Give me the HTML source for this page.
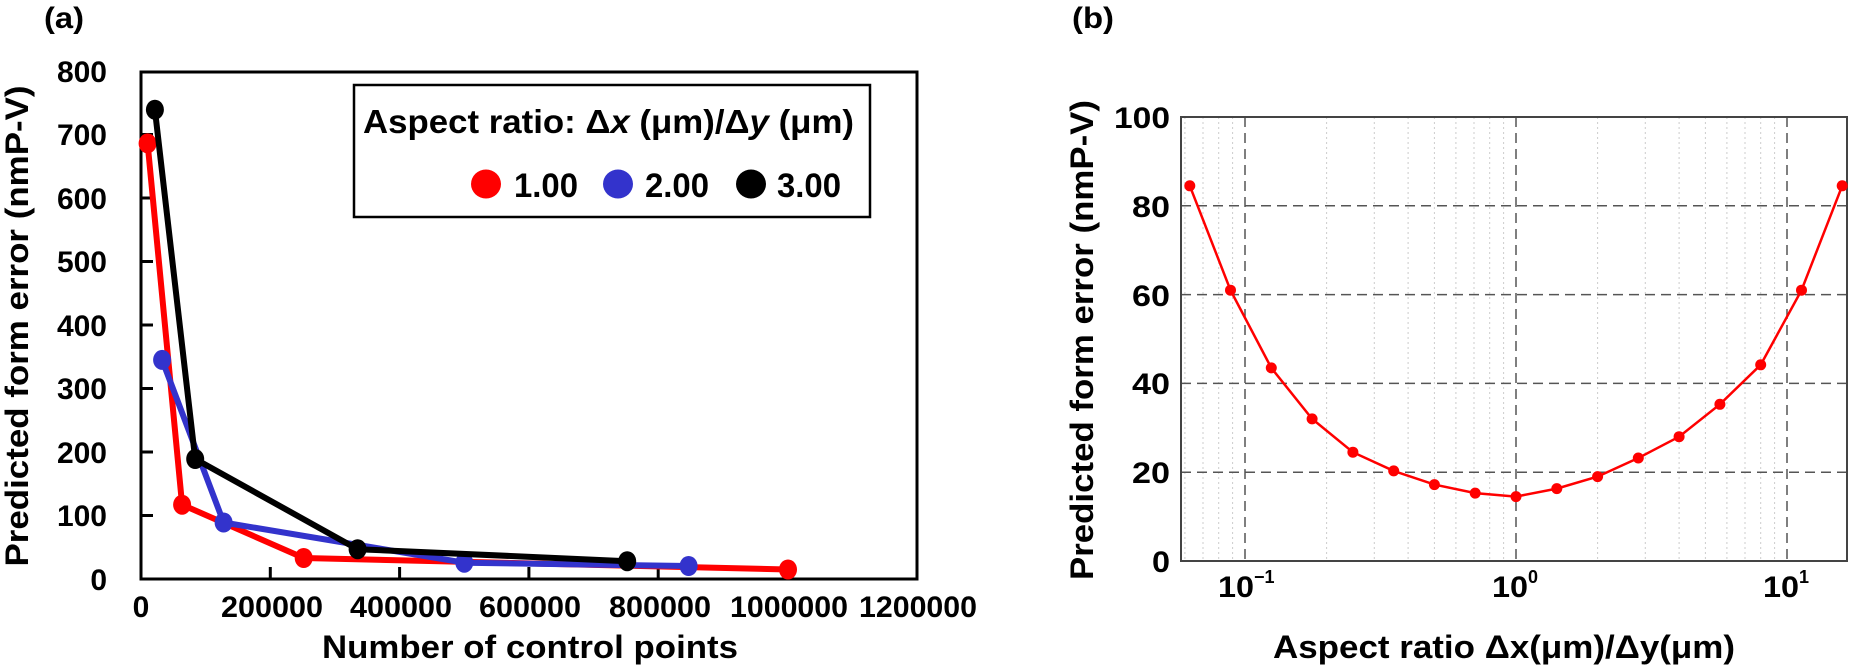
<!DOCTYPE html>
<html><head><meta charset="utf-8"><style>
html,body{margin:0;padding:0;background:#fff;}
svg{display:block;}
text{font-family:"Liberation Sans",Arial,sans-serif;font-weight:bold;fill:#000;}
</style></head><body>
<svg width="1850" height="665" viewBox="0 0 1850 665" xmlns="http://www.w3.org/2000/svg">
<!-- Panel a -->
<text x="44" y="28" font-size="30" textLength="40" lengthAdjust="spacingAndGlyphs">(a)</text>
<rect x="141" y="72" width="776" height="507" fill="none" stroke="#000" stroke-width="3"/>
<g stroke="#000" stroke-width="3">
<line x1="141" y1="515.5" x2="153" y2="515.5"/><line x1="141" y1="452" x2="153" y2="452"/>
<line x1="141" y1="388.5" x2="153" y2="388.5"/><line x1="141" y1="325" x2="153" y2="325"/>
<line x1="141" y1="261.5" x2="153" y2="261.5"/><line x1="141" y1="198" x2="153" y2="198"/>
<line x1="141" y1="134.5" x2="153" y2="134.5"/>
<line x1="270.3" y1="579" x2="270.3" y2="567"/><line x1="399.6" y1="579" x2="399.6" y2="567"/>
<line x1="528.9" y1="579" x2="528.9" y2="567"/><line x1="658.2" y1="579" x2="658.2" y2="567"/>
<line x1="787.5" y1="579" x2="787.5" y2="567"/>
</g>
<g font-size="30" text-anchor="end">
<text x="107" y="590">0</text><text x="107" y="526">100</text><text x="107" y="463">200</text>
<text x="107" y="399">300</text><text x="107" y="336">400</text><text x="107" y="272">500</text>
<text x="107" y="209">600</text><text x="107" y="145">700</text><text x="107" y="82">800</text>
</g>
<g font-size="30" text-anchor="middle">
<text x="141" y="617">0</text>
<text x="272" y="617" textLength="102" lengthAdjust="spacingAndGlyphs">200000</text>
<text x="401" y="617" textLength="102" lengthAdjust="spacingAndGlyphs">400000</text>
<text x="530" y="617" textLength="102" lengthAdjust="spacingAndGlyphs">600000</text>
<text x="660" y="617" textLength="102" lengthAdjust="spacingAndGlyphs">800000</text>
<text x="789" y="617" textLength="118" lengthAdjust="spacingAndGlyphs">1000000</text>
<text x="918" y="617" textLength="118" lengthAdjust="spacingAndGlyphs">1200000</text>
</g>
<text x="530" y="658" font-size="32" text-anchor="middle" textLength="416" lengthAdjust="spacingAndGlyphs">Number of control points</text>
<text transform="translate(28,326) rotate(-90)" font-size="32" text-anchor="middle" textLength="481" lengthAdjust="spacingAndGlyphs">Predicted form error (nmP-V)</text>
<!-- series -->
<polyline points="147.6,143.4 182.1,504.7 303.7,558 788,569.5" fill="none" stroke="#ff0000" stroke-width="6" stroke-linejoin="round"/>
<g fill="#ff0000"><ellipse cx="147.6" cy="143.4" rx="9" ry="10"/><ellipse cx="182.1" cy="504.7" rx="9" ry="10"/><ellipse cx="303.7" cy="558" rx="9" ry="10"/><ellipse cx="788" cy="569.5" rx="9" ry="10"/></g>
<polyline points="162.1,359.9 223.6,522.5 464.3,562.7 688.6,566" fill="none" stroke="#3333cc" stroke-width="6" stroke-linejoin="round"/>
<g fill="#3333cc"><ellipse cx="162.1" cy="359.9" rx="9" ry="10"/><ellipse cx="223.6" cy="522.5" rx="9" ry="10"/><ellipse cx="464.3" cy="562.7" rx="9" ry="10"/><ellipse cx="688.6" cy="566" rx="9" ry="10"/></g>
<polyline points="154.9,109.7 195.2,459 357.6,549.2 627.2,561.2" fill="none" stroke="#000" stroke-width="6" stroke-linejoin="round"/>
<g fill="#000"><ellipse cx="154.9" cy="109.7" rx="9" ry="10"/><ellipse cx="195.2" cy="459" rx="9" ry="10"/><ellipse cx="357.6" cy="549.2" rx="9" ry="10"/><ellipse cx="627.2" cy="561.2" rx="9" ry="10"/></g>
<!-- legend -->
<rect x="354" y="85" width="516" height="132" fill="#fff" stroke="#000" stroke-width="2.5"/>
<text x="363" y="133" font-size="33" textLength="491" lengthAdjust="spacingAndGlyphs">Aspect ratio: Δ<tspan font-style="italic">x</tspan> (μm)/Δ<tspan font-style="italic">y</tspan> (μm)</text>
<ellipse cx="486" cy="184" rx="15" ry="14.5" fill="#ff0000"/>
<text x="514" y="197" font-size="34" textLength="64" lengthAdjust="spacingAndGlyphs">1.00</text>
<ellipse cx="618" cy="184" rx="15" ry="14.5" fill="#3333cc"/>
<text x="645" y="197" font-size="34" textLength="64" lengthAdjust="spacingAndGlyphs">2.00</text>
<ellipse cx="751" cy="184" rx="15" ry="14.5" fill="#000"/>
<text x="777" y="197" font-size="34" textLength="64" lengthAdjust="spacingAndGlyphs">3.00</text>

<!-- Panel b -->
<text x="1072" y="28" font-size="30" textLength="42" lengthAdjust="spacingAndGlyphs">(b)</text>
<g stroke="#cccccc" stroke-width="1" stroke-dasharray="2,3">
<line x1="1184.9" y1="117" x2="1184.9" y2="561"/><line x1="1203" y1="117" x2="1203" y2="561"/>
<line x1="1218.7" y1="117" x2="1218.7" y2="561"/><line x1="1232.6" y1="117" x2="1232.6" y2="561"/>
<line x1="1326.6" y1="117" x2="1326.6" y2="561"/><line x1="1374.3" y1="117" x2="1374.3" y2="561"/>
<line x1="1408.1" y1="117" x2="1408.1" y2="561"/><line x1="1434.4" y1="117" x2="1434.4" y2="561"/>
<line x1="1455.9" y1="117" x2="1455.9" y2="561"/><line x1="1474" y1="117" x2="1474" y2="561"/>
<line x1="1489.7" y1="117" x2="1489.7" y2="561"/><line x1="1503.6" y1="117" x2="1503.6" y2="561"/>
<line x1="1597.6" y1="117" x2="1597.6" y2="561"/><line x1="1645.3" y1="117" x2="1645.3" y2="561"/>
<line x1="1679.1" y1="117" x2="1679.1" y2="561"/><line x1="1705.4" y1="117" x2="1705.4" y2="561"/>
<line x1="1726.9" y1="117" x2="1726.9" y2="561"/><line x1="1745" y1="117" x2="1745" y2="561"/>
<line x1="1760.7" y1="117" x2="1760.7" y2="561"/><line x1="1774.6" y1="117" x2="1774.6" y2="561"/>
</g>
<g stroke="#555" stroke-width="1.5" stroke-dasharray="10,6">
<line x1="1181" y1="472.2" x2="1847" y2="472.2"/><line x1="1181" y1="383.4" x2="1847" y2="383.4"/>
<line x1="1181" y1="294.6" x2="1847" y2="294.6"/><line x1="1181" y1="205.8" x2="1847" y2="205.8"/>
<line x1="1245" y1="117" x2="1245" y2="561"/><line x1="1516" y1="117" x2="1516" y2="561"/>
<line x1="1787" y1="117" x2="1787" y2="561"/>
</g>
<rect x="1181" y="117" width="666" height="444" fill="none" stroke="#444" stroke-width="2"/>
<g font-size="30" text-anchor="end">
<text x="1170" y="572" textLength="18" lengthAdjust="spacingAndGlyphs">0</text>
<text x="1170" y="483" textLength="38" lengthAdjust="spacingAndGlyphs">20</text>
<text x="1170" y="394" textLength="38" lengthAdjust="spacingAndGlyphs">40</text>
<text x="1170" y="306" textLength="38" lengthAdjust="spacingAndGlyphs">60</text>
<text x="1170" y="217" textLength="38" lengthAdjust="spacingAndGlyphs">80</text>
<text x="1170" y="128" textLength="56" lengthAdjust="spacingAndGlyphs">100</text>
</g>
<g font-size="30">
<text x="1218" y="597" textLength="36" lengthAdjust="spacingAndGlyphs">10</text><text x="1254" y="583" font-size="18">−1</text>
<text x="1492" y="597" textLength="36" lengthAdjust="spacingAndGlyphs">10</text><text x="1528" y="583" font-size="18">0</text>
<text x="1763" y="597" textLength="36" lengthAdjust="spacingAndGlyphs">10</text><text x="1799" y="583" font-size="18">1</text>
</g>
<text x="1504" y="658" font-size="32" text-anchor="middle" textLength="462" lengthAdjust="spacingAndGlyphs">Aspect ratio Δx(μm)/Δy(μm)</text>
<text transform="translate(1093,340) rotate(-90)" font-size="32" text-anchor="middle" textLength="480" lengthAdjust="spacingAndGlyphs">Predicted form error (nmP-V)</text>
<polyline points="1189.8,185.8 1230.5,290.2 1271.3,367.9 1312.1,418.9 1352.9,452.2 1393.7,470.9 1434.4,484.6 1475.2,493.1 1516,496.6 1556.8,488.6 1597.6,476.6 1638.3,458 1679.1,436.7 1719.9,404.3 1760.7,364.8 1801.5,290.2 1842.2,185.8" fill="none" stroke="#ff0000" stroke-width="2.5"/>
<g fill="#ff0000">
<circle cx="1189.8" cy="185.8" r="5.5"/><circle cx="1230.5" cy="290.2" r="5.5"/><circle cx="1271.3" cy="367.9" r="5.5"/>
<circle cx="1312.1" cy="418.9" r="5.5"/><circle cx="1352.9" cy="452.2" r="5.5"/><circle cx="1393.7" cy="470.9" r="5.5"/>
<circle cx="1434.4" cy="484.6" r="5.5"/><circle cx="1475.2" cy="493.1" r="5.5"/><circle cx="1516" cy="496.6" r="5.5"/>
<circle cx="1556.8" cy="488.6" r="5.5"/><circle cx="1597.6" cy="476.6" r="5.5"/><circle cx="1638.3" cy="458" r="5.5"/>
<circle cx="1679.1" cy="436.7" r="5.5"/><circle cx="1719.9" cy="404.3" r="5.5"/><circle cx="1760.7" cy="364.8" r="5.5"/>
<circle cx="1801.5" cy="290.2" r="5.5"/><circle cx="1842.2" cy="185.8" r="5.5"/>
</g>
</svg>
</body></html>
